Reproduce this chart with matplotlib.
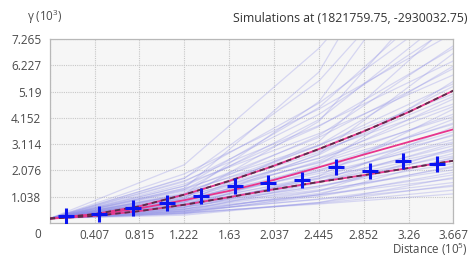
import matplotlib
matplotlib.use("Agg")
import matplotlib.pyplot as plt
import numpy as np

# ---- data ----
x_ticks = [0, 0.407, 0.815, 1.222, 1.63, 2.037, 2.445, 2.852, 3.26, 3.667]
x_tick_labels = ["", "0.407", "0.815", "1.222", "1.63", "2.037", "2.445", "2.852", "3.26", "3.667"]
origin_label = "0"
y_ticks = [1.038, 2.076, 3.114, 4.152, 5.19, 6.227, 7.265]
y_tick_labels = ["1.038", "2.076", "3.114", "4.152", "5.19", "6.227", "7.265"]

# empirical semivariogram points
lag_x = [0.145, 0.448, 0.76, 1.068, 1.374, 1.686, 1.985, 2.294, 2.598, 2.906, 3.209, 3.518]
lag_y = [0.28, 0.34, 0.60, 0.80, 1.08, 1.46, 1.57, 1.70, 2.23, 2.04, 2.45, 2.33]

# curves sampled at the x ticks
model_y = [0.18, 0.32, 0.58, 0.90, 1.27, 1.70, 2.20, 2.70, 3.20, 3.70]
upper_y = [0.18, 0.35, 0.66, 1.12, 1.66, 2.26, 2.92, 3.62, 4.38, 5.23]
lower_y = [0.17, 0.28, 0.47, 0.72, 1.02, 1.33, 1.62, 1.89, 2.17, 2.46]

# simulated semivariograms: values at distance 0, 1.222, 2.445, 3.667
sim_x = [0, 1.222, 2.445, 3.667]
sim_v0 = [0.18] * 60
sim_v1 = [0.41, 0.39, 0.48, 0.36, 0.45, 0.56, 0.31, 0.51, 0.43, 0.64,
          0.56, 0.47, 0.70, 0.63, 0.37, 0.77, 0.54, 0.69, 0.83, 0.40,
          0.73, 0.60, 0.90, 0.77, 0.96, 0.64, 0.83, 0.47, 1.07, 0.90,
          0.73, 1.14, 0.96, 0.53, 1.02, 1.26, 0.84, 1.10, 1.36, 0.91,
          1.19, 0.61, 1.54, 1.30, 1.02, 1.67, 0.70, 1.46, 1.13, 1.94,
          1.63, 0.81, 1.32, 1.78, 1.46, 0.97, 1.76, 1.13, 2.30, 1.37]
sim_v2 = [0.75, 0.78, 0.93, 0.81, 0.95, 1.11, 0.81, 1.11, 1.05, 1.31,
          1.27, 1.17, 1.46, 1.46, 1.12, 1.64, 1.41, 1.62, 1.78, 1.26,
          1.73, 1.61, 1.96, 1.86, 2.11, 1.77, 2.03, 1.59, 2.37, 2.22,
          2.06, 2.55, 2.40, 1.86, 2.57, 2.85, 2.45, 2.78, 3.08, 2.69,
          3.05, 2.29, 3.53, 3.38, 3.07, 3.85, 2.72, 3.81, 3.45, 4.50,
          4.29, 3.23, 4.08, 4.73, 4.56, 4.01, 5.61, 4.79, 6.90, 5.96]
sim_v3 = [1.15, 1.30, 1.45, 1.50, 1.60, 1.75, 1.80, 1.90, 2.00, 2.10,
          2.20, 2.25, 2.35, 2.55, 2.60, 2.65, 2.75, 2.85, 2.90, 2.95,
          3.05, 3.15, 3.20, 3.30, 3.45, 3.50, 3.60, 3.80, 3.90, 3.95,
          4.10, 4.20, 4.30, 4.50, 4.60, 4.70, 4.90, 5.00, 5.10, 5.40,
          5.50, 5.60, 5.85, 6.10, 6.20, 6.40, 6.70, 6.90, 7.00, 7.50,
          7.80, 8.00, 8.30, 8.60, 9.30, 10.0, 11.5, 12.0, 13.0, 15.0]

title = "Simulations at (1821759.75, -2930032.75)"

# ---- style ----
plt.rcParams['font.family'] = ['Open Sans', 'DejaVu Sans']
plt.rcParams['mathtext.fontset'] = 'custom'
plt.rcParams['mathtext.rm'] = 'Open Sans'
plt.rcParams['mathtext.it'] = 'Open Sans'

fig = plt.figure(figsize=(4.74, 2.60), dpi=100)
fig.patch.set_facecolor('white')
ax = fig.add_axes([0.1049, 0.1423, 0.8518, 0.7077])
ax.set_facecolor('#f6f6f6')

for v0, v1, v2, v3 in zip(sim_v0, sim_v1, sim_v2, sim_v3):
    ax.plot(sim_x, [v0, v1, v2, v3], color='#8c8ce6', alpha=0.3, lw=0.9, zorder=2)

ax.plot(x_ticks, model_y, color='#e8358c', lw=1.3, zorder=4)
ax.plot(x_ticks, upper_y, color='#e8358c', lw=1.3, zorder=4)
ax.plot(x_ticks, upper_y, color='#5a2d4a', lw=1.3, ls=(0, (3, 2.2)), zorder=5)
ax.plot(x_ticks, lower_y, color='#e8358c', lw=1.3, zorder=4)
ax.plot(x_ticks, lower_y, color='#5a2d4a', lw=1.3, ls=(0, (3, 2.2)), zorder=5)

ax.plot(lag_x, lag_y, ls='none', marker='+', ms=12, mew=2.2, color='#0a14f0', zorder=6)

ax.set_xlim(0, 3.667)
ax.set_ylim(0, 7.265)
ax.set_xticks(x_ticks)
ax.set_xticklabels(x_tick_labels)
ax.set_yticks(y_ticks)
ax.set_yticklabels(y_tick_labels)
ax.tick_params(axis='both', length=0, labelsize=8.5, labelcolor='#4a4a4a')
ax.tick_params(axis='x', pad=4)
ax.tick_params(axis='y', pad=6)
ax.grid(True, color='#c8c8c8', ls=(0, (1, 1)), lw=0.8, zorder=1)
ax.set_axisbelow(True)
for s in ax.spines.values():
    s.set_color('#b8b8b8')
    s.set_linewidth(0.9)

fig.text(38 / 474, 1 - 234 / 260, origin_label, ha='center', va='center', fontsize=8.5, color='#4a4a4a')
fig.text(0.987, 0.93, title, ha='right', va='center', fontsize=8.8, color='#333333')
fig.text(0.095, 0.935, r'γ (10$^{3}$)', ha='center', va='center', fontsize=8.3, color='#4a4a4a')
fig.text(0.987, 0.04, r'Distance (10$^{5}$)', ha='right', va='center', fontsize=8.3, color='#4a4a4a')

fig.savefig('out.png', dpi=100)
